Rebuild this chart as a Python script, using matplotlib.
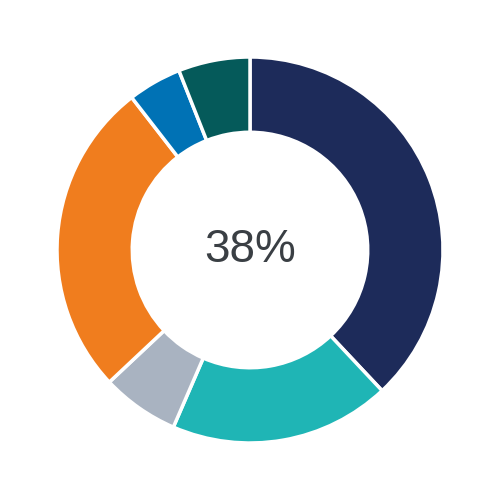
import matplotlib
matplotlib.use("Agg")
import matplotlib.pyplot as plt

# segments, clockwise from 12 o'clock
labels = ["Navy", "Teal", "Gray", "Orange", "Blue", "Dark teal"]
values = [38, 18.5, 6.5, 26.5, 4.5, 6]
colors = ["#1d2b5a", "#1fb5b5", "#a9b3c1", "#f07d1e", "#0072b5", "#055a5a"]
center_text = "38%"

fig = plt.figure(figsize=(5, 5), dpi=100)
ax = fig.add_axes([0, 0, 1, 1])

ax.pie(values, colors=colors, startangle=90, counterclock=False,
       radius=1.0,
       wedgeprops=dict(width=0.39, edgecolor="white", linewidth=2.5))

ax.text(0, 0, center_text, ha="center", va="center",
        fontsize=33, color="#3a3f44", family="Liberation Sans")

lim = 250 / 193
ax.set_xlim(-lim, lim)
ax.set_ylim(-lim, lim)
ax.set_aspect("equal")
ax.axis("off")

fig.savefig("out.png", dpi=100, facecolor="white")
